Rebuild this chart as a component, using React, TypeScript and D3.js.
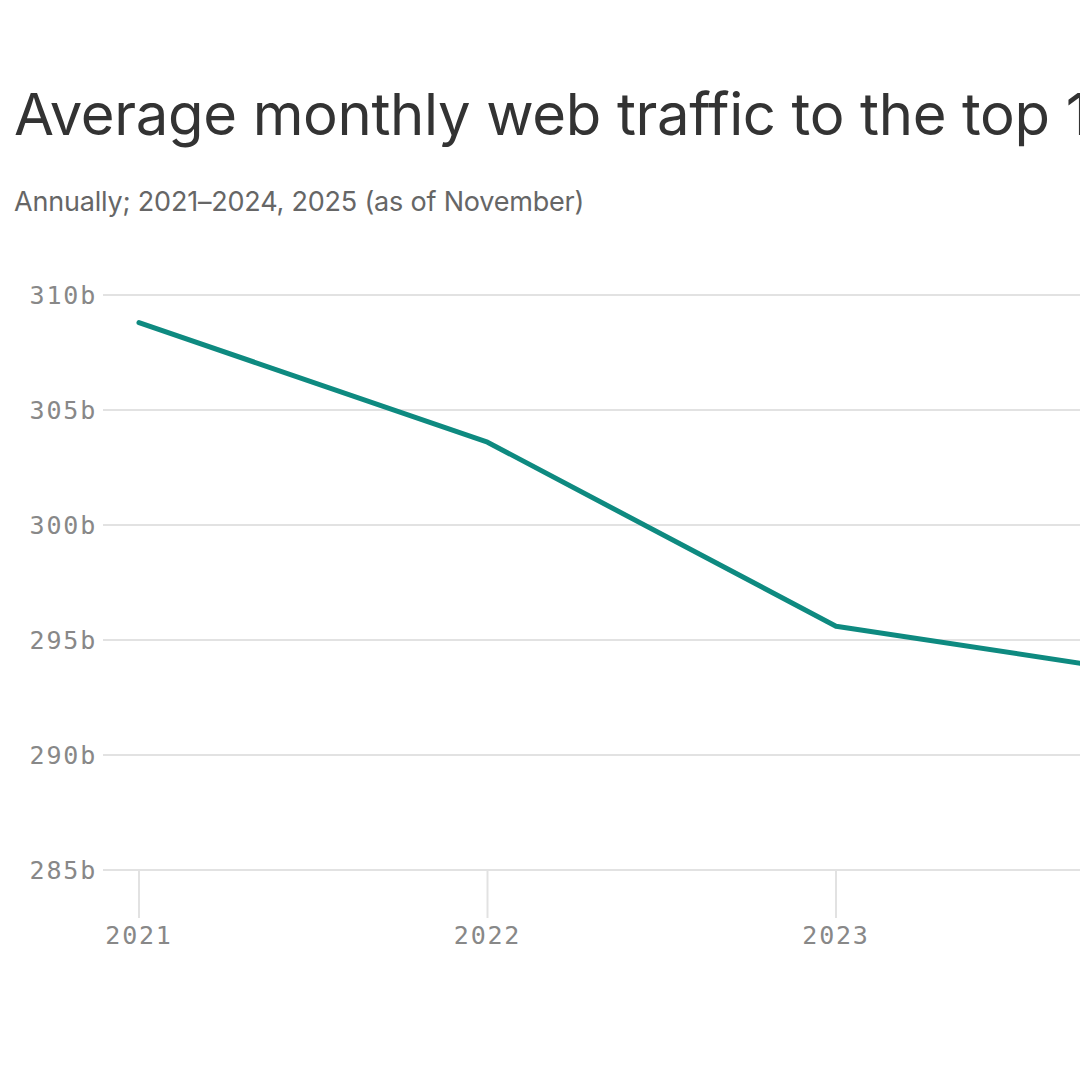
import * as d3 from "d3";
import React from "react";

const years = [2021, 2022, 2023, 2024, 2025];
const traffic = [308.8, 303.6, 295.6, 293.3, 291.8];
const yTicks = [285, 290, 295, 300, 305, 310];
const xTicks = [2021, 2022, 2023, 2024, 2025];

const title = "Average monthly web traffic to the top 1,000 websites";
const subtitle = "Annually; 2021–2024, 2025 (as of November)";

export default function App() {
  const width = 1080;
  const height = 1080;
  const svgRef = React.useRef<SVGSVGElement | null>(null);

  React.useEffect(() => {
    const svg = d3.select(svgRef.current);
    svg.selectAll("*").remove();

    const x = d3.scaleLinear().domain([2021, 2022]).range([139, 487.5]);
    const y = d3.scaleLinear().domain([285, 310]).range([870, 295]);

    svg
      .append("rect")
      .attr("width", width)
      .attr("height", height)
      .attr("fill", "#fff");

    svg
      .append("text")
      .attr("x", 14)
      .attr("y", 135)
      .attr("font-family", "Inter, sans-serif")
      .attr("font-size", 58)
      .attr("font-weight", 400)
      .attr("letter-spacing", -0.35)
      .attr("fill", "#333")
      .text(title);

    svg
      .append("text")
      .attr("x", 14)
      .attr("y", 211)
      .attr("font-family", "Inter, sans-serif")
      .attr("font-size", 27)
      .attr("letter-spacing", -0.2)
      .attr("fill", "#666")
      .text(subtitle);

    // horizontal grid + y labels
    const yAxis = svg.append("g");
    yAxis
      .selectAll("line")
      .data(yTicks)
      .join("line")
      .attr("x1", 103)
      .attr("x2", width + 400)
      .attr("y1", (d) => y(d))
      .attr("y2", (d) => y(d))
      .attr("stroke", "#e2e2e2")
      .attr("stroke-width", 2);
    yAxis
      .selectAll("text")
      .data(yTicks)
      .join("text")
      .attr("x", 97)
      .attr("y", (d) => y(d))
      .attr("dy", "0.35em")
      .attr("text-anchor", "end")
      .attr("font-family", "'DejaVu Sans Mono', monospace")
      .attr("font-size", 25)
      .attr("letter-spacing", 1.8)
      .attr("fill", "#888")
      .text((d) => `${d}b`);

    // x ticks
    const xAxis = svg.append("g");
    xAxis
      .selectAll("line")
      .data(xTicks)
      .join("line")
      .attr("x1", (d) => x(d))
      .attr("x2", (d) => x(d))
      .attr("y1", y(285))
      .attr("y2", 918)
      .attr("stroke", "#e2e2e2")
      .attr("stroke-width", 2);
    xAxis
      .selectAll("text")
      .data(xTicks)
      .join("text")
      .attr("x", (d) => x(d))
      .attr("y", 944)
      .attr("text-anchor", "middle")
      .attr("font-family", "'DejaVu Sans Mono', monospace")
      .attr("font-size", 25)
      .attr("letter-spacing", 1.8)
      .attr("fill", "#888")
      .text((d) => String(d));

    const line = d3
      .line<number>()
      .x((_, i) => x(years[i]))
      .y((d) => y(d));

    svg
      .append("path")
      .datum(traffic)
      .attr("fill", "none")
      .attr("stroke", "#0e8a80")
      .attr("stroke-width", 5)
      .attr("stroke-linecap", "round")
      .attr("stroke-linejoin", "round")
      .attr("d", line(traffic) ?? null);
  }, []);

  return (
    <svg
      ref={svgRef}
      width={width}
      height={height}
      viewBox={`0 0 ${width} ${height}`}
      style={{ position: "absolute", left: 0, top: 0, display: "block" }}
    ></svg>
  );
}
